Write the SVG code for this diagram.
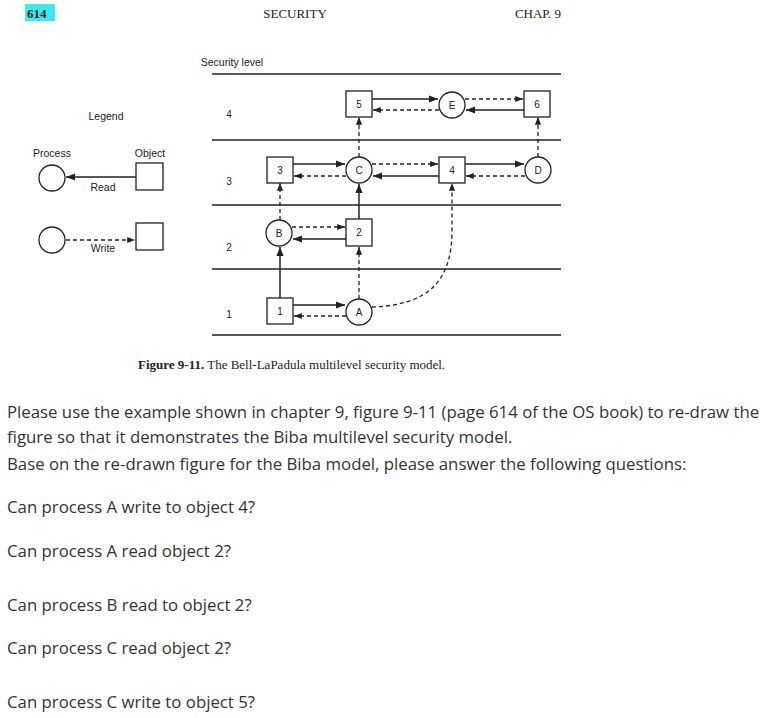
<svg xmlns="http://www.w3.org/2000/svg" width="765" height="718" viewBox="0 0 765 718">
<defs>
<marker id="ah" viewBox="0 0 10 10" refX="10" refY="5" markerWidth="6" markerHeight="6" orient="auto"><path d="M0,1 L10,5 L0,9 z" fill="#222"/></marker>
<style>
.s{stroke:#222;stroke-width:1.5;fill:none}
.r{stroke:#222;stroke-width:1.5;fill:none;marker-end:url(#ah)}
.w{stroke:#222;stroke-width:1.3;fill:none;stroke-dasharray:4,3;marker-end:url(#ah)}
.n{stroke:#222;stroke-width:1.3;fill:#fff}
.l{font-family:"Liberation Sans",Arial,sans-serif;font-size:10.5px;fill:#222}
.nl{font-family:"Liberation Sans",Arial,sans-serif;font-size:10px;fill:#222;text-anchor:middle}
.q{font-family:"Open Sans","Noto Sans",sans-serif;font-size:16.8px;fill:#333}
.h{font-family:"Liberation Serif","Times New Roman",serif;font-size:13px;fill:#222}
</style>
</defs>
<rect width="765" height="718" fill="#fff"/>
<rect x="25" y="4" width="30" height="17" fill="#3ee8ee"/>
<text class="h" x="27" y="18" font-weight="bold">614</text>
<text class="h" x="295" y="18" text-anchor="middle">SECURITY</text>
<text class="h" x="538" y="18" text-anchor="middle">CHAP. 9</text>
<text class="l" x="232" y="66" text-anchor="middle">Security level</text>
<g id="levels">
<line class="s" x1="212" y1="74" x2="561" y2="74"/>
<line class="s" x1="212" y1="140" x2="561" y2="140"/>
<line class="s" x1="212" y1="205" x2="561" y2="205"/>
<line class="s" x1="212" y1="269" x2="561" y2="269"/>
<line class="s" x1="212" y1="335" x2="561" y2="335"/>
<text class="nl" x="229" y="118">4</text>
<text class="nl" x="229" y="185">3</text>
<text class="nl" x="229" y="251">2</text>
<text class="nl" x="229" y="318">1</text>
</g>
<g id="legend">
<text class="l" x="106" y="120" text-anchor="middle">Legend</text>
<text class="l" x="52" y="157" text-anchor="middle">Process</text>
<text class="l" x="150" y="157" text-anchor="middle">Object</text>
<circle class="n" cx="52" cy="178" r="13"/>
<rect class="n" x="136" y="163" width="27" height="27"/>
<line class="r" x1="136" y1="177" x2="66" y2="177"/>
<text class="l" x="103" y="191" text-anchor="middle">Read</text>
<circle class="n" cx="52" cy="240" r="13"/>
<rect class="n" x="136" y="223" width="27" height="27"/>
<line class="w" x1="66" y1="240" x2="135" y2="240"/>
<text class="l" x="103" y="252" text-anchor="middle">Write</text>
</g>
<g id="connectors">
<line class="r" x1="372" y1="99" x2="438" y2="99"/>
<line class="w" x1="439" y1="110" x2="373" y2="110"/>
<line class="w" x1="465" y1="99" x2="523" y2="99"/>
<line class="r" x1="524" y1="110" x2="466" y2="110"/>
<line class="r" x1="293" y1="164" x2="345" y2="164"/>
<line class="w" x1="346" y1="176" x2="294" y2="176"/>
<line class="w" x1="372" y1="164" x2="438" y2="164"/>
<line class="r" x1="439" y1="176" x2="373" y2="176"/>
<line class="r" x1="465" y1="164" x2="524" y2="164"/>
<line class="w" x1="525" y1="176" x2="466" y2="176"/>
<line class="w" x1="359" y1="157" x2="359" y2="117"/>
<line class="w" x1="538" y1="157" x2="538" y2="117"/>
<line class="w" x1="280" y1="220" x2="280" y2="183"/>
<line class="r" x1="359" y1="219" x2="359" y2="184"/>
<path class="w" d="M372,307 C430,305 452,280 452,230 L452,183"/>
<line class="w" x1="292" y1="227" x2="345" y2="227"/>
<line class="r" x1="346" y1="239" x2="293" y2="239"/>
<line class="r" x1="280" y1="298" x2="280" y2="247"/>
<line class="r" x1="293" y1="305" x2="345" y2="305"/>
<line class="w" x1="346" y1="316" x2="294" y2="316"/>
<line class="w" x1="359" y1="299" x2="359" y2="247"/>
</g>
<g id="n5"><rect class="n" x="346" y="91" width="26" height="26"/><text class="nl" x="359" y="107.5">5</text></g>
<g id="nE"><circle class="n" cx="452" cy="105" r="13"/><text class="nl" x="452" y="108.5">E</text></g>
<g id="n6"><rect class="n" x="524" y="91" width="26" height="26"/><text class="nl" x="537" y="107.5">6</text></g>
<g id="n3"><rect class="n" x="267" y="157" width="26" height="26"/><text class="nl" x="280" y="173.5">3</text></g>
<g id="nC"><circle class="n" cx="359" cy="170" r="13"/><text class="nl" x="359" y="173.5">C</text></g>
<g id="n4"><rect class="n" x="439" y="157" width="26" height="26"/><text class="nl" x="452" y="173.5">4</text></g>
<g id="nD"><circle class="n" cx="538" cy="170" r="13"/><text class="nl" x="538" y="173.5">D</text></g>
<g id="nB"><circle class="n" cx="279" cy="233" r="13"/><text class="nl" x="279" y="236.5">B</text></g>
<g id="n2"><rect class="n" x="346" y="219" width="26" height="27"/><text class="nl" x="359" y="236">2</text></g>
<g id="n1"><rect class="n" x="267" y="298" width="26" height="26"/><text class="nl" x="280" y="314.5">1</text></g>
<g id="nA"><circle class="n" cx="359" cy="312" r="13"/><text class="nl" x="359" y="315.5">A</text></g>
<text class="h" x="138" y="369" font-size="11"><tspan font-weight="bold">Figure 9-11.</tspan> The Bell-LaPadula multilevel security model.</text>
<text class="q" x="7" y="418">Please use the example shown in chapter 9, figure 9-11 (page 614 of the OS book) to re-draw the</text>
<text class="q" x="7" y="443">figure so that it demonstrates the Biba multilevel security model.</text>
<text class="q" x="7" y="470">Base on the re-drawn figure for the Biba model, please answer the following questions:</text>
<text class="q" x="7" y="513">Can process A write to object 4?</text>
<text class="q" x="7" y="557">Can process A read object 2?</text>
<text class="q" x="7" y="611">Can process B read to object 2?</text>
<text class="q" x="7" y="654">Can process C read object 2?</text>
<text class="q" x="7" y="708">Can process C write to object 5?</text>
</svg>
